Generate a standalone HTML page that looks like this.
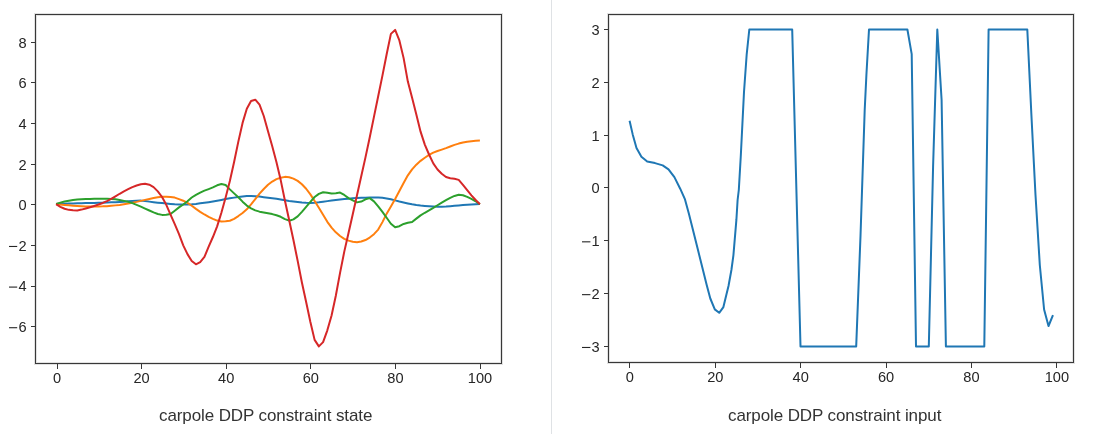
<!DOCTYPE html>
<html><head><meta charset="utf-8"><style>
html,body{margin:0;padding:0;background:#fff;}
body{width:1099px;height:438px;overflow:hidden;position:relative;font-family:"Liberation Sans",sans-serif;}
svg{position:absolute;left:0;top:0;will-change:transform;}
.plot{position:absolute;left:0;top:0;width:1099px;height:438px;}
.sep{position:absolute;left:551px;top:0;width:1px;height:434px;background:#dfe2e5;}
.cap{position:absolute;top:406.6px;font-size:17px;letter-spacing:-0.1px;color:#333;white-space:nowrap;line-height:17px;}
</style></head><body>
<div class="plot"><svg width="1099" height="438" viewBox="0 0 1099 438">
<g>
<g font-family="Liberation Sans, sans-serif" font-size="14.2" fill="#262626">
<text transform="translate(26.6 47.72) scale(1.03 1)" text-anchor="end">8</text>
<text transform="translate(26.6 88.34) scale(1.03 1)" text-anchor="end">6</text>
<text transform="translate(26.6 128.96) scale(1.03 1)" text-anchor="end">4</text>
<text transform="translate(26.6 169.58) scale(1.03 1)" text-anchor="end">2</text>
<text transform="translate(26.6 210.20) scale(1.03 1)" text-anchor="end">0</text>
<text transform="translate(26.6 250.82) scale(1.03 1)" text-anchor="end">2</text>
<rect x="9" y="245.92" width="8.2" height="1.1"/>
<text transform="translate(26.6 291.44) scale(1.03 1)" text-anchor="end">4</text>
<rect x="9" y="286.54" width="8.2" height="1.1"/>
<text transform="translate(26.6 332.06) scale(1.03 1)" text-anchor="end">6</text>
<rect x="9" y="327.16" width="8.2" height="1.1"/>
<text transform="translate(57.00 383.2) scale(1.03 1)" text-anchor="middle">0</text>
<text transform="translate(141.60 383.2) scale(1.03 1)" text-anchor="middle">20</text>
<text transform="translate(226.20 383.2) scale(1.03 1)" text-anchor="middle">40</text>
<text transform="translate(310.80 383.2) scale(1.03 1)" text-anchor="middle">60</text>
<text transform="translate(395.40 383.2) scale(1.03 1)" text-anchor="middle">80</text>
<text transform="translate(480.00 383.2) scale(1.03 1)" text-anchor="middle">100</text>
<text transform="translate(599.7 34.90) scale(1.03 1)" text-anchor="end">3</text>
<text transform="translate(599.7 87.72) scale(1.03 1)" text-anchor="end">2</text>
<text transform="translate(599.7 140.54) scale(1.03 1)" text-anchor="end">1</text>
<text transform="translate(599.7 193.36) scale(1.03 1)" text-anchor="end">0</text>
<text transform="translate(599.7 246.18) scale(1.03 1)" text-anchor="end">1</text>
<rect x="582" y="241.28" width="8.4" height="1.1"/>
<text transform="translate(599.7 299.00) scale(1.03 1)" text-anchor="end">2</text>
<rect x="582" y="294.10" width="8.4" height="1.1"/>
<text transform="translate(599.7 351.82) scale(1.03 1)" text-anchor="end">3</text>
<rect x="582" y="346.92" width="8.4" height="1.1"/>
<text transform="translate(629.90 382.0) scale(1.03 1)" text-anchor="middle">0</text>
<text transform="translate(715.30 382.0) scale(1.03 1)" text-anchor="middle">20</text>
<text transform="translate(800.70 382.0) scale(1.03 1)" text-anchor="middle">40</text>
<text transform="translate(886.10 382.0) scale(1.03 1)" text-anchor="middle">60</text>
<text transform="translate(971.50 382.0) scale(1.03 1)" text-anchor="middle">80</text>
<text transform="translate(1056.90 382.0) scale(1.03 1)" text-anchor="middle">100</text>
</g>
<g shape-rendering="crispEdges">
<rect x="35.5" y="14.5" width="466.0" height="349.0" fill="none" stroke="#e2e2e2" stroke-width="3"/>
<rect x="608.5" y="14.5" width="465.0" height="348.0" fill="none" stroke="#e2e2e2" stroke-width="3"/>
<line x1="30.5" x2="35.5" y1="42.32" y2="42.32" stroke="#383838" stroke-width="1"/>
<line x1="30.5" x2="35.5" y1="82.94" y2="82.94" stroke="#383838" stroke-width="1"/>
<line x1="30.5" x2="35.5" y1="123.56" y2="123.56" stroke="#383838" stroke-width="1"/>
<line x1="30.5" x2="35.5" y1="164.18" y2="164.18" stroke="#383838" stroke-width="1"/>
<line x1="30.5" x2="35.5" y1="204.80" y2="204.80" stroke="#383838" stroke-width="1"/>
<line x1="30.5" x2="35.5" y1="245.42" y2="245.42" stroke="#383838" stroke-width="1"/>
<line x1="30.5" x2="35.5" y1="286.04" y2="286.04" stroke="#383838" stroke-width="1"/>
<line x1="30.5" x2="35.5" y1="326.66" y2="326.66" stroke="#383838" stroke-width="1"/>
<line x1="57.00" x2="57.00" y1="363.5" y2="368.5" stroke="#383838" stroke-width="1"/>
<line x1="141.60" x2="141.60" y1="363.5" y2="368.5" stroke="#383838" stroke-width="1"/>
<line x1="226.20" x2="226.20" y1="363.5" y2="368.5" stroke="#383838" stroke-width="1"/>
<line x1="310.80" x2="310.80" y1="363.5" y2="368.5" stroke="#383838" stroke-width="1"/>
<line x1="395.40" x2="395.40" y1="363.5" y2="368.5" stroke="#383838" stroke-width="1"/>
<line x1="480.00" x2="480.00" y1="363.5" y2="368.5" stroke="#383838" stroke-width="1"/>
<line x1="603.5" x2="608.5" y1="29.50" y2="29.50" stroke="#383838" stroke-width="1"/>
<line x1="603.5" x2="608.5" y1="82.32" y2="82.32" stroke="#383838" stroke-width="1"/>
<line x1="603.5" x2="608.5" y1="135.14" y2="135.14" stroke="#383838" stroke-width="1"/>
<line x1="603.5" x2="608.5" y1="187.96" y2="187.96" stroke="#383838" stroke-width="1"/>
<line x1="603.5" x2="608.5" y1="240.78" y2="240.78" stroke="#383838" stroke-width="1"/>
<line x1="603.5" x2="608.5" y1="293.60" y2="293.60" stroke="#383838" stroke-width="1"/>
<line x1="603.5" x2="608.5" y1="346.42" y2="346.42" stroke="#383838" stroke-width="1"/>
<line x1="629.90" x2="629.90" y1="362.5" y2="367.5" stroke="#383838" stroke-width="1"/>
<line x1="715.30" x2="715.30" y1="362.5" y2="367.5" stroke="#383838" stroke-width="1"/>
<line x1="800.70" x2="800.70" y1="362.5" y2="367.5" stroke="#383838" stroke-width="1"/>
<line x1="886.10" x2="886.10" y1="362.5" y2="367.5" stroke="#383838" stroke-width="1"/>
<line x1="971.50" x2="971.50" y1="362.5" y2="367.5" stroke="#383838" stroke-width="1"/>
<line x1="1056.90" x2="1056.90" y1="362.5" y2="367.5" stroke="#383838" stroke-width="1"/>
</g>
<g>
<polyline fill="none" stroke="#1f77b4" stroke-width="2.0" stroke-linejoin="round" stroke-linecap="butt" points="56.1,204 60.34,203.83 64.58,203.67 68.81,203.53 73.05,203.39 77.29,203.26 81.53,203.14 85.77,203.05 90,202.96 94.24,202.88 98.48,202.78 102.72,202.66 106.96,202.5 111.19,202.33 115.43,202.13 119.67,201.92 123.91,201.64 128.15,201.28 132.38,200.93 136.62,200.67 140.86,200.62 145.1,201.05 149.34,201.63 153.57,202.14 157.81,202.65 162.05,203.09 166.29,203.49 170.53,203.96 174.76,204.37 179,204.4 183.24,204.4 187.48,204.4 191.72,204.36 195.95,203.96 200.19,203.36 204.43,202.78 208.67,202.16 212.91,201.47 217.14,200.75 221.38,199.94 225.62,199.1 229.86,198.32 234.1,197.62 238.33,196.99 242.57,196.52 246.81,196.12 251.05,196.01 255.29,196.21 259.52,196.61 263.76,197.14 268,197.71 272.24,198.24 276.48,198.86 280.71,199.55 284.95,200.26 289.19,200.89 293.43,201.42 297.67,201.96 301.9,202.46 306.14,202.8 310.38,202.89 314.62,202.68 318.86,202.25 323.09,201.7 327.33,201.13 331.57,200.61 335.81,200.06 340.05,199.55 344.28,199.11 348.52,198.7 352.76,198.32 357,198.01 361.24,197.79 365.47,197.64 369.71,197.51 373.95,197.43 378.19,197.41 382.43,197.79 386.66,198.48 390.9,199.27 395.14,200.36 399.38,201.52 403.62,202.51 407.85,203.44 412.09,204.32 416.33,205.06 420.57,205.55 424.81,205.92 429.04,206.25 433.28,206.5 437.52,206.66 441.76,206.69 446,206.51 450.23,206.16 454.47,205.76 458.71,205.38 462.95,205.08 467.19,204.8 471.42,204.52 475.66,204.25 479.9,203.99"/>
<polyline fill="none" stroke="#ff7f0e" stroke-width="2.0" stroke-linejoin="round" stroke-linecap="butt" points="56.1,204.2 60.34,204.59 64.58,204.96 68.81,205.32 73.05,205.65 77.29,205.92 81.53,206.19 85.77,206.4 90,206.5 94.24,206.49 98.48,206.44 102.72,206.37 106.96,206.15 111.19,205.8 115.43,205.37 119.67,204.9 123.91,204.23 128.15,203.5 132.38,202.73 136.62,201.87 140.86,200.9 145.1,199.9 149.34,198.95 153.57,198 157.81,197.25 162.05,196.85 166.29,196.71 170.53,196.95 174.76,197.58 179,199.12 183.24,200.7 187.48,202.82 191.72,205.8 195.95,208.88 200.19,211.81 204.43,214.48 208.67,216.88 212.91,218.8 217.14,220.6 221.38,221.5 225.62,221.29 229.86,220.72 234.1,218.81 238.33,216.05 242.57,212.99 246.81,209.31 251.05,204.37 255.29,199.03 259.52,193.7 263.76,189.01 268,184.79 272.24,181.53 276.48,179.08 280.71,177.69 284.95,176.86 289.19,177.19 293.43,178.59 297.67,180.88 301.9,184.31 306.14,188.73 310.38,194.4 314.62,201.07 318.86,207.71 323.09,214.67 327.33,221.86 331.57,227.69 335.81,232.32 340.05,235.96 344.28,238.81 348.52,240.65 352.76,241.77 357,242.19 361.24,241.48 365.47,240.05 369.71,237.57 373.95,234.19 378.19,229.59 382.43,222.12 386.66,213.65 390.9,206.4 395.14,199.02 399.38,191.03 403.62,183.04 407.85,175.35 412.09,169.43 416.33,164.66 420.57,160.87 424.81,157.73 429.04,154.94 433.28,152.67 437.52,151.01 441.76,149.6 446,148.14 450.23,146.5 454.47,144.9 458.71,143.59 462.95,142.52 467.19,141.68 471.42,141.15 475.66,140.73 479.9,140.5"/>
<polyline fill="none" stroke="#2ca02c" stroke-width="2.0" stroke-linejoin="round" stroke-linecap="butt" points="56.1,204 60.34,202.65 64.58,201.57 68.81,200.73 73.05,200.08 77.29,199.57 81.53,199.27 85.77,199.06 90,198.91 94.24,198.8 98.48,198.72 102.72,198.71 106.96,198.81 111.19,199 115.43,199.29 119.67,200.02 123.91,200.88 128.15,201.84 132.38,203.15 136.62,204.86 140.86,206.67 145.1,208.6 149.34,210.5 153.57,212.42 157.81,213.98 162.05,214.88 166.29,214.82 170.53,213.97 174.76,210.74 179,207.36 183.24,204.49 187.48,201.19 191.72,197.5 195.95,194.81 200.19,192.57 204.43,190.68 208.67,189.06 212.91,187.42 217.14,185.3 221.38,184.01 225.62,185.02 229.86,189.37 234.1,193.39 238.33,197.32 242.57,201.67 246.81,205.6 251.05,208.3 255.29,210.37 259.52,211.65 263.76,212.45 268,213.16 272.24,214.09 276.48,215.31 280.71,216.78 284.95,219.11 289.19,220.68 293.43,219.39 297.67,216.43 301.9,211.86 306.14,206.95 310.38,201.82 314.62,197 318.86,193.84 323.09,192.2 327.33,192.8 331.57,193.57 335.81,193.16 340.05,192.6 344.28,194.97 348.52,198.07 352.76,200.38 357,202.39 361.24,201.56 365.47,199.33 369.71,198.13 373.95,201.36 378.19,206.37 382.43,211.94 386.66,217.78 390.9,223.72 395.14,227.29 399.38,226.23 403.62,223.95 407.85,222.83 412.09,222 416.33,218.65 420.57,215.35 424.81,212.77 429.04,210.36 433.28,207.87 437.52,205.23 441.76,202.61 446,200.16 450.23,197.8 454.47,195.95 458.71,194.78 462.95,195.3 467.19,196.92 471.42,198.84 475.66,201.26 479.9,204.15"/>
<polyline fill="none" stroke="#d62728" stroke-width="2.0" stroke-linejoin="round" stroke-linecap="butt" points="56.1,204.2 60.34,206.87 64.58,208.75 68.81,209.86 73.05,210.36 77.29,210.44 81.53,209.6 85.77,208.48 90,207.27 94.24,205.94 98.48,204.53 102.72,202.95 106.96,201.13 111.19,198.95 115.43,196.29 119.67,193.76 123.91,191.41 128.15,189.23 132.38,187.12 136.62,185.46 140.86,184.23 145.1,183.71 149.34,184.73 153.57,187.15 157.81,191.38 162.05,197 166.29,204.83 170.53,214.6 174.76,224.19 179,234.21 183.24,245.33 187.48,254.14 191.72,260.92 195.95,264.3 200.19,262.15 204.43,256.94 208.67,246.73 212.91,237.02 217.14,226.34 221.38,212.77 225.62,197.49 229.86,181.08 234.1,162.02 238.33,141.66 242.57,122.91 246.81,108.68 251.05,101.02 255.29,99.7 259.52,104.57 263.76,116.02 268,131.19 272.24,146.18 276.48,162.25 280.71,180.09 284.95,200.82 289.19,220.3 293.43,240.04 297.67,260.92 301.9,282.51 306.14,301.96 310.38,322.05 314.62,339.86 318.86,346.4 323.09,342.16 327.33,330.31 331.57,315.46 335.81,295.72 340.05,272.9 344.28,251.61 348.52,233 352.76,214.19 357,195.28 361.24,176.18 365.47,157.4 369.71,137.53 373.95,116.91 378.19,96.29 382.43,75.67 386.66,54.24 390.9,33.87 395.14,29.9 399.38,40.45 403.62,58.11 407.85,81.58 412.09,97.87 416.33,114.54 420.57,131.64 424.81,144.6 429.04,154.5 433.28,163.42 437.52,169.46 441.76,173.67 446,176.98 450.23,178.25 454.47,178.77 458.71,179.88 462.95,184.91 467.19,190.23 471.42,195.41 475.66,199.99 479.9,204.19"/>
<polyline fill="none" stroke="#1f77b4" stroke-width="2" stroke-linejoin="round" stroke-linecap="square" points="629.8,121.8 632.7,134.4 636.5,148 641.4,156.7 647.2,161.5 655,163.1 662.7,165.4 668.5,169.3 674.4,177.1 680.2,188.7 685,199.4 688.9,213.7 697.8,249.3 706.7,285 710.3,298.5 714.8,309.4 719.2,312.8 723.4,307.1 726.3,295.1 728.5,286 731.4,270 733.4,255.3 736.4,219.7 737.6,200 738.8,190 740.8,155.8 744,92 746.7,54.3 749.3,29.5 792.2,29.5 800.5,346.4 856.2,346.4 860.5,236 864.7,110 866.4,75 869,29.5 907.4,29.5 911.7,54.2 916,346.4 928.8,346.4 933.1,166 937.3,29.5 941.6,100 945.9,346.4 984.3,346.4 988.6,29.5 1027.3,29.5 1031.3,113 1035.5,195 1039.8,265 1044.1,309.5 1048.5,326 1052.6,316"/>
</g>
<g shape-rendering="crispEdges">
<rect x="35.5" y="14.5" width="466.0" height="349.0" fill="none" stroke="#383838" stroke-width="1"/>
<rect x="608.5" y="14.5" width="465.0" height="348.0" fill="none" stroke="#383838" stroke-width="1"/>
</g>
</g></svg></div>
<div class="sep"></div>
<div class="cap" id="c1" style="left:159px">carpole DDP constraint state</div>
<div class="cap" id="c2" style="left:728px">carpole DDP constraint input</div>
</body></html>
